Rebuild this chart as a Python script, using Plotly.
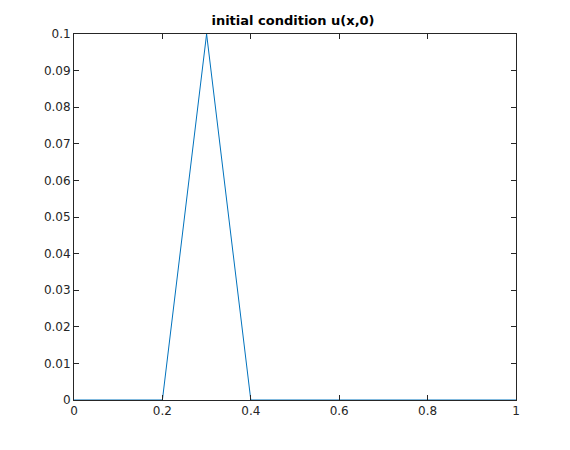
import plotly.graph_objects as go

x_vals = [0, 0.2, 0.3, 0.4, 1.0]
u_vals = [0, 0, 0.1, 0, 0]
x_ticks = [0, 0.2, 0.4, 0.6, 0.8, 1]
y_ticks = [0, 0.01, 0.02, 0.03, 0.04, 0.05, 0.06, 0.07, 0.08, 0.09, 0.1]

fig = go.Figure(go.Scatter(x=x_vals, y=u_vals, mode="lines",
                           line=dict(color="#0072BD", width=1)))
axis_common = dict(showgrid=False, zeroline=False, showline=True, mirror="ticks",
                   linecolor="#262626", linewidth=1, ticks="inside", ticklen=5,
                   tickcolor="#262626", tickfont=dict(family="DejaVu Sans", size=12, color="#262626"))
fig.update_xaxes(range=[0, 1], tickvals=x_ticks, ticktext=[f"{v:g}" for v in x_ticks], **axis_common)
fig.update_yaxes(range=[0, 0.1], tickvals=y_ticks, ticktext=[f"{v:g}" for v in y_ticks], **axis_common)
fig.update_layout(
    width=570, height=450, plot_bgcolor="white", paper_bgcolor="white",
    margin=dict(l=66, r=62, t=26, b=58), showlegend=False,
    title=dict(text="<b>initial condition u(x,0)</b>", x=0.5, xanchor="center",
               y=1 - 12/450, yanchor="middle",
               font=dict(family="DejaVu Sans", size=13, color="black")),
)
fig.write_html("out.html")
